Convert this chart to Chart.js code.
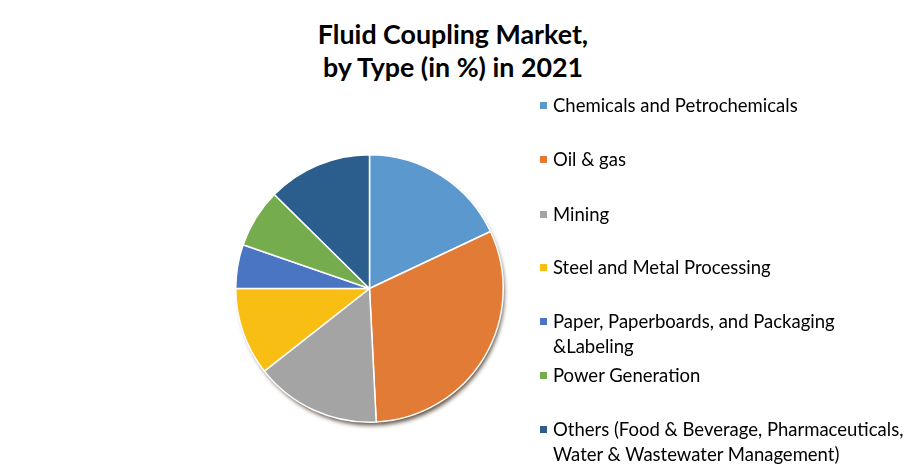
<!DOCTYPE html>
<html>
<head>
<meta charset="utf-8">
<script src="https://cdn.jsdelivr.net/npm/chart.js@4"></script>
<style>
  html, body { margin: 0; padding: 0; background: #fff; }
  #wrap { position: relative; width: 909px; height: 469px; overflow: hidden; }
  #pie { position: absolute; left: 0; top: 0; }
  .title {
    position: absolute; left: 0; top: 18px; width: 906px; text-align: center;
    font-family: Lato, "Open Sans", sans-serif; font-weight: bold; font-size: 26.8px;
    line-height: 33px; color: #000;
  }
  #legend { position: absolute; left: 538px; top: 0; font-family: Lato, "Open Sans", sans-serif; font-size: 18.5px; color: #000; }
  .item { position: absolute; left: 0; white-space: nowrap; line-height: 25px; }
  .sw { position: absolute; left: 2px; top: 9px; width: 7px; height: 7px; }
  .txt { position: absolute; left: 15px; top: 0; }
</style>
</head>
<body>
<div id="wrap">
  <div class="title">Fluid Coupling Market,<br>by Type (in %) in 2021</div>
  <canvas id="pie" width="909" height="469"></canvas>
  <div id="legend"></div>
</div>
<script>
// 데이터 (그림에서 읽은 값, %)
const categories = [
  'Chemicals and Petrochemicals',
  'Oil & gas',
  'Mining',
  'Steel and Metal Processing',
  'Paper, Paperboards, and Packaging\n&Labeling',
  'Power Generation',
  'Others (Food & Beverage, Pharmaceuticals,\nWater & Wastewater Management)'
];
const shares = [18, 31.2, 15.2, 10.6, 5.3, 7.1, 12.6];
const colors = ['#5B98CD', '#E17B36', '#A4A4A4', '#F8BE14', '#4A75C3', '#74AC4E', '#2C5E8D'];
const legendTops = [93, 147, 202, 255, 309, 363, 417];

// 파이 뒤쪽 그림자
const pieShadow = {
  id: 'pieShadow',
  beforeDatasetsDraw(chart) {
    const arc = chart.getDatasetMeta(0).data[0];
    if (!arc) return;
    const ctx = chart.ctx;
    ctx.save();
    ctx.shadowColor = 'rgba(40,20,0,0.75)';
    ctx.shadowBlur = 4;
    ctx.shadowOffsetX = 2;
    ctx.shadowOffsetY = 4;
    ctx.beginPath();
    ctx.arc(arc.x, arc.y, arc.outerRadius - 1, 0, Math.PI * 2);
    ctx.fillStyle = '#666';
    ctx.fill();
    ctx.restore();
  }
};

new Chart(document.getElementById('pie').getContext('2d'), {
  type: 'pie',
  data: {
    labels: categories,
    datasets: [{
      data: shares,
      backgroundColor: colors,
      borderColor: '#fff',
      borderWidth: 1.5
    }]
  },
  options: {
    responsive: false,
    animation: false,
    layout: { padding: { left: 233, right: 403, top: 154, bottom: 46 } },
    plugins: { legend: { display: false }, tooltip: { enabled: false } }
  },
  plugins: [pieShadow]
});

// 범례
const legend = document.getElementById('legend');
legend.innerHTML = categories.map((c, i) => `
  <div class="item" style="top:${legendTops[i]}px">
    <div class="sw" style="background:${colors[i]}"></div>
    <div class="txt">${c.replace(/&/g, '&amp;').replace('\n', '<br>')}</div>
  </div>`).join('');
</script>
</body>
</html>
